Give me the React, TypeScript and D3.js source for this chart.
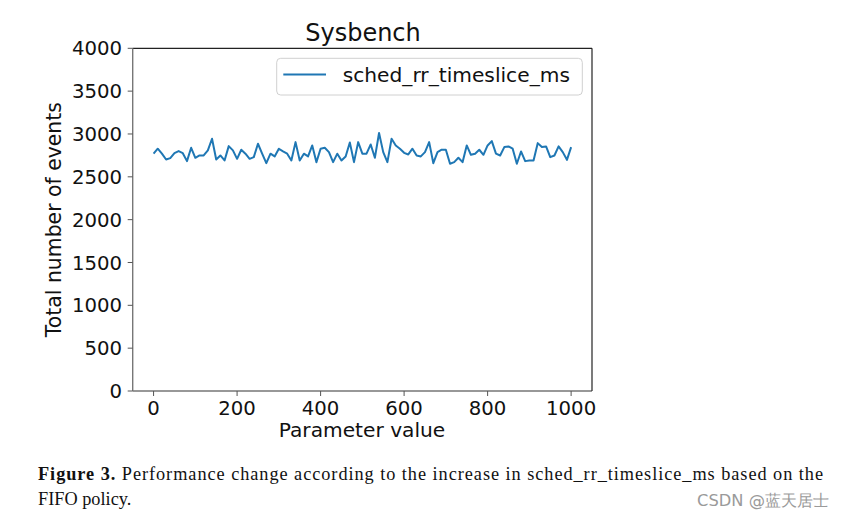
import React from "react";
import * as d3 from "d3";

const xValues: number[] = d3.range(0, 1001, 10);
const events: number[] = [
  2770, 2828, 2770, 2702, 2718, 2776, 2800, 2776, 2683, 2839,
  2722, 2749, 2749, 2808, 2944, 2702, 2749, 2691, 2858, 2808,
  2710, 2816, 2770, 2710, 2730, 2886, 2770, 2659, 2770, 2738,
  2828, 2796, 2770, 2691, 2905, 2691, 2770, 2738, 2866, 2671,
  2828, 2839, 2788, 2671, 2770, 2691, 2738, 2900, 2671, 2905,
  2770, 2770, 2878, 2722, 3011, 2788, 2671, 2944, 2866, 2828,
  2780, 2761, 2828, 2749, 2738, 2788, 2905, 2659, 2788, 2816,
  2816, 2652, 2671, 2722, 2671, 2866, 2757, 2770, 2816, 2757,
  2866, 2917, 2770, 2749, 2847, 2855, 2828, 2652, 2796, 2683,
  2691, 2691, 2893, 2847, 2855, 2730, 2749, 2855, 2788, 2698,
  2847,
];
const xTicks: number[] = [0, 200, 400, 600, 800, 1000];
const yTicks: number[] = [0, 500, 1000, 1500, 2000, 2500, 3000, 3500, 4000];
const seriesName = "sched_rr_timeslice_ms";
const title = "Sysbench";
const xLabel = "Parameter value";
const yLabel = "Total number of events";

const W = 845;
const H = 519;
const left = 132.7;
const right = 592;
const top = 48.3;
const bottom = 391;
const font = "DejaVu Sans, sans-serif";

export default function App() {
  const x = d3.scaleLinear().domain([-50, 1050]).range([left, right]);
  const y = d3.scaleLinear().domain([0, 4000]).range([bottom, top]);
  const line = d3
    .line<number>()
    .x((_, i) => x(xValues[i]))
    .y((d) => y(d));

  return (
    <svg
      width={W}
      height={H}
      style={{ position: "absolute", left: 0, top: 0, background: "#fff" }}
    >
      <rect x={0} y={0} width={W} height={H} fill="#fff" />
      {/* title */}
      <text x={363} y={41} textAnchor="middle" fontFamily={font} fontSize={24} fill="#111">
        {title}
      </text>
      {/* data line */}
      <path d={line(events) || ""} fill="none" stroke="#1f77b4" strokeWidth={2} strokeLinejoin="round" />
      {/* spines */}
      <line x1={left} x2={right} y1={top} y2={top} stroke="#222" strokeWidth={1.2} />
      <line x1={right} x2={right} y1={top} y2={bottom} stroke="#222" strokeWidth={1.2} />
      <line x1={left} x2={right} y1={bottom} y2={bottom} stroke="#333" strokeWidth={1.2} />
      <line x1={left} x2={left} y1={top} y2={bottom} stroke="#777" strokeWidth={1.4} />
      {/* x ticks */}
      {xTicks.map((t) => (
        <g key={"x" + t}>
          <line x1={x(t)} x2={x(t)} y1={bottom} y2={bottom + 5} stroke="#555" strokeWidth={1} />
          <text x={x(t)} y={415} textAnchor="middle" fontFamily={font} fontSize={19.7} fill="#111">
            {t}
          </text>
        </g>
      ))}
      {/* y ticks */}
      {yTicks.map((t) => (
        <g key={"y" + t}>
          <line x1={left - 5} x2={left} y1={y(t)} y2={y(t)} stroke="#555" strokeWidth={1} />
          <text
            x={122}
            y={y(t)}
            dy="0.36em"
            textAnchor="end"
            fontFamily={font}
            fontSize={19.7}
            fill="#111"
          >
            {t}
          </text>
        </g>
      ))}
      {/* axis labels */}
      <text x={362} y={437} textAnchor="middle" fontFamily={font} fontSize={20.2} fill="#111">
        {xLabel}
      </text>
      <text
        transform={`translate(61,${(top + bottom) / 2}) rotate(-90)`}
        textAnchor="middle"
        fontFamily={font}
        fontSize={20.4}
        fill="#111"
      >
        {yLabel}
      </text>
      {/* legend */}
      <rect x={276.7} y={58.3} width={305.6} height={36.7} rx={4} fill="#fff" fillOpacity={0.8} stroke="#d0d0d0" strokeWidth={1} />
      <line x1={283.3} x2={326} y1={74.5} y2={74.5} stroke="#1f77b4" strokeWidth={2} />
      <text x={342.7} y={81.5} fontFamily={font} fontSize={20.2} fill="#111">
        {seriesName}
      </text>
      {/* caption */}
      <text
        x={38}
        y={480}
        fontFamily="Liberation Serif, serif"
        fontSize={18.3}
        fill="#111"
        textLength={785}
        lengthAdjust="spacing"
      >
        <tspan fontWeight="bold">Figure 3.</tspan>
        <tspan> Performance change according to the increase in sched_rr_timeslice_ms based on the</tspan>
      </text>
      <text x={38} y={505} fontFamily="Liberation Serif, serif" fontSize={18.3} fill="#111">
        FIFO policy.
      </text>
      <text x={829} y={505.5} textAnchor="end" fontFamily="DejaVu Sans, sans-serif" fontSize={16.3} fill="#9a9a9a">
        CSDN @蓝天居士
      </text>
    </svg>
  );
}
